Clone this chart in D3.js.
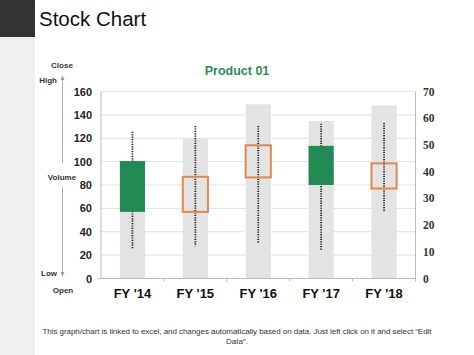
<!DOCTYPE html>
<html><head><meta charset="utf-8">
<script src="https://cdn.jsdelivr.net/npm/d3@7/dist/d3.min.js"></script>
<style>body{margin:0;background:#fff}svg{display:block}</style>
</head><body>
<script>
const categories = ["FY '14", "FY '15", "FY '16", "FY '17", "FY '18"];
const volume = [43, 52.5, 65.2, 59, 64.8];
const openV = [57, 87, 114, 80, 98.5];
const highV = [125.5, 130.5, 130.5, 132.5, 133];
const lowV = [25.5, 27.5, 30, 24, 57];
const closeV = [100.5, 57, 86.5, 113.5, 77];
const leftTicks = [0, 20, 40, 60, 80, 100, 120, 140, 160];
const rightTicks = [0, 10, 20, 30, 40, 50, 60, 70];

const W = 474, H = 355;
const svg = d3.select("body").append("svg").attr("width", W).attr("height", H);

// decorative strips
svg.append("rect").attr("x", 0).attr("y", 0).attr("width", 35).attr("height", 37).attr("fill", "#333333");
svg.append("rect").attr("x", 0).attr("y", 37).attr("width", 35).attr("height", H - 37).attr("fill", "#efefef");
svg.append("text").attr("x", 39).attr("y", 26).attr("font-family", "Liberation Sans, Arial").attr("font-size", 20.5).attr("fill", "#111").text("Stock Chart");

const x0 = 101, x1 = 415.5, yTop = 91.5, yBot = 278.5;
const x = d3.scaleBand().domain(categories).range([x0, x1]).paddingInner(0.6).paddingOuter(0.3);
const band = d3.scaleBand().domain(categories).range([x0, x1]);
const yL = d3.scaleLinear().domain([0, 160]).range([yBot, yTop]);
const yR = d3.scaleLinear().domain([0, 70]).range([yBot, yTop]);

// gridlines
svg.append("g").selectAll("line").data(leftTicks.filter(d => d > 0)).join("line")
  .attr("x1", x0).attr("x2", x1).attr("y1", d => yL(d)).attr("y2", d => yL(d))
  .attr("stroke", "#e2e2e2").attr("stroke-width", 1);

// volume bars
svg.append("g").selectAll("rect").data(categories).join("rect")
  .attr("x", d => x(d)).attr("width", x.bandwidth())
  .attr("y", (d, i) => yR(volume[i])).attr("height", (d, i) => yBot - yR(volume[i]))
  .attr("fill", "#e3e3e3");

// whiskers
svg.append("g").selectAll("line").data(categories).join("line")
  .attr("x1", d => x(d) + x.bandwidth() / 2).attr("x2", d => x(d) + x.bandwidth() / 2)
  .attr("y1", (d, i) => yL(highV[i])).attr("y2", (d, i) => yL(lowV[i]))
  .attr("stroke", "#222").attr("stroke-width", 1.8).attr("stroke-dasharray", "1.2,1.2");

// boxes
svg.append("g").selectAll("rect").data(categories).join("rect")
  .each(function (d, i) {
    const up = closeV[i] > openV[i];
    const top = yL(Math.max(openV[i], closeV[i])), bot = yL(Math.min(openV[i], closeV[i]));
    const s = d3.select(this);
    if (up) {
      s.attr("x", x(d)).attr("width", x.bandwidth()).attr("y", top).attr("height", bot - top)
        .attr("fill", "#238a55");
    } else {
      s.attr("x", x(d)).attr("width", x.bandwidth()).attr("y", top).attr("height", bot - top)
        .attr("fill", "none").attr("stroke", "#e2874a").attr("stroke-width", 2);
    }
  });

// axes lines
svg.append("line").attr("x1", x0).attr("x2", x0).attr("y1", yTop).attr("y2", yBot).attr("stroke", "#bbb");
svg.append("line").attr("x1", x1).attr("x2", x1).attr("y1", yTop).attr("y2", yBot + 3).attr("stroke", "#bbb");
svg.append("line").attr("x1", x0 - 3).attr("x2", x1).attr("y1", yBot).attr("y2", yBot).attr("stroke", "#bbb");
svg.append("g").selectAll("line").data(categories.slice(1)).join("line")
  .attr("x1", d => band(d)).attr("x2", d => band(d)).attr("y1", yBot).attr("y2", yBot + 3).attr("stroke", "#bbb");

// left tick labels
svg.append("g").selectAll("text").data(leftTicks).join("text")
  .attr("x", 92).attr("y", d => yL(d) + 4).attr("text-anchor", "end")
  .attr("font-family", "Liberation Sans, Arial").attr("font-weight", "bold").attr("font-size", 11).attr("fill", "#222")
  .text(d => d);
// right tick labels
svg.append("g").selectAll("text").data(rightTicks).join("text")
  .attr("x", 423).attr("y", d => yR(d) + 4).attr("text-anchor", "start")
  .attr("font-family", "Liberation Serif, Times New Roman").attr("font-weight", "bold").attr("font-size", 11.5).attr("fill", "#333")
  .text(d => d);
// category labels
svg.append("g").selectAll("text").data(categories).join("text")
  .attr("x", d => band(d) + band.bandwidth() / 2).attr("y", 298).attr("text-anchor", "middle")
  .attr("font-family", "Liberation Sans, Arial").attr("font-weight", "bold").attr("font-size", 13).attr("fill", "#111")
  .text(d => d);

// chart title
svg.append("text").attr("x", 237).attr("y", 75).attr("text-anchor", "middle")
  .attr("font-family", "Liberation Sans, Arial").attr("font-weight", "bold").attr("font-size", 12.5).attr("fill", "#2e8b57")
  .text("Product 01");

// left annotation
const ann = svg.append("g").attr("font-family", "Liberation Sans, Arial").attr("font-weight", "bold").attr("font-size", 8).attr("fill", "#333");
ann.append("text").attr("x", 62).attr("y", 68).attr("text-anchor", "middle").text("Close");
ann.append("text").attr("x", 57).attr("y", 83).attr("text-anchor", "end").text("High");
ann.append("text").attr("x", 62).attr("y", 180).attr("text-anchor", "middle").text("Volume");
ann.append("text").attr("x", 57).attr("y", 276).attr("text-anchor", "end").text("Low");
ann.append("text").attr("x", 63).attr("y", 293).attr("text-anchor", "middle").text("Open");
svg.append("line").attr("x1", 62.5).attr("x2", 62.5).attr("y1", 78).attr("y2", 163).attr("stroke", "#999").attr("stroke-width", 0.8);
svg.append("line").attr("x1", 62.5).attr("x2", 62.5).attr("y1", 187).attr("y2", 274).attr("stroke", "#999").attr("stroke-width", 0.8);
svg.append("path").attr("d", "M60.5,80 L62.5,75.5 L64.5,80 Z").attr("fill", "#999");
svg.append("path").attr("d", "M60.5,272 L62.5,276.5 L64.5,272 Z").attr("fill", "#999");

// footnote
const fn = svg.append("g").attr("font-family", "Liberation Sans, Arial").attr("font-size", 8).attr("fill", "#333").attr("text-anchor", "middle");
fn.append("text").attr("x", 237).attr("y", 334).attr("textLength", 389).text("This graph/chart is linked to excel, and changes automatically based on data. Just left click on it and select \u201cEdit");
fn.append("text").attr("x", 237).attr("y", 344).text("Data\u201d.");
</script>
</body></html>
